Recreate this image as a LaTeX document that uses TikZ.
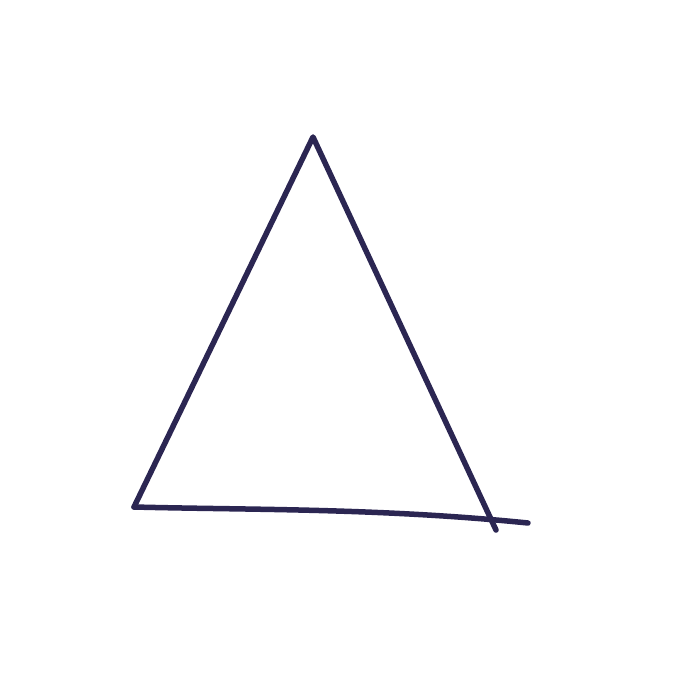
\documentclass[tikz,border=0pt]{standalone}
\begin{document}
\begin{tikzpicture}[x=1pt,y=-1pt,
  pen/.style={draw=ink,line width=5.5pt,line cap=round,line join=round}]
\definecolor{ink}{HTML}{2B2652}
\useasboundingbox[fill=white] (0,0) rectangle (700,700);
\coordinate (apex) at (313,137);
\coordinate (bl) at (134,507);
\coordinate (br) at (528,523);
\coordinate (rend) at (496,530);
\draw[pen] (bl) -- (apex) -- (rend);
\draw[pen] (bl) .. controls (250,510) and (380,508) .. (br);
\end{tikzpicture}
\end{document}
